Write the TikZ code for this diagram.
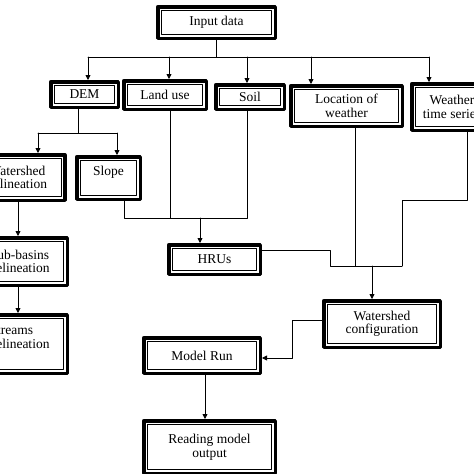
\documentclass[tikz,border=0pt]{standalone}
\usepackage{fontspec}
\setmainfont{Liberation Serif}
\usetikzlibrary{arrows.meta}

\begin{document}
\begin{tikzpicture}[x=1pt, y=-1pt, line cap=round, line join=round, line width=0.8pt,
  font=\fontsize{13.5}{13.5}\selectfont,
  box/.style={draw, line width=3.5pt, fill=white, inner sep=2pt, align=center,
    path picture={\draw[line width=0.8pt]
      ([shift={(3.6pt,3.6pt)}]path picture bounding box.south west) rectangle
      ([shift={(-3.6pt,-3.6pt)}]path picture bounding box.north east);}},
  arr/.style={-{Triangle[length=5pt,width=5pt]}}]

% Frame of the picture (boxes at the sides are cut off)
\useasboundingbox (0,0) rectangle (474,474);
\clip (0,0) rectangle (474,474);

% Boxes, placed at coordinates
\node[box, minimum width=117.5pt, minimum height=31.5pt] (input) at (216.5,22.5) {Input data};
\node[box, minimum width=67.5pt, minimum height=25.5pt] (dem) at (84.5,94.5) {DEM};
\node[box, minimum width=82.5pt, minimum height=28.5pt] (landuse) at (165,95) {Land use};
\node[box, minimum width=68.5pt, minimum height=24.5pt] (soil) at (250,97) {Soil};
\node[box, minimum width=111.5pt, minimum height=40.5pt] (loc) at (346.5,106) {Location of\\weather};
\node[box, minimum width=80.5pt, minimum height=46.5pt] (wts) at (452,107) {Weather\\time series};
\node[box, minimum width=95.5pt, minimum height=45.5pt] (wsd) at (17,177.5) {Watershed\\delineation};
\node[box, minimum width=63.5pt, minimum height=42.5pt] (slope) at (108.5,178) {Slope\\\mbox{}};
\node[box, minimum width=95.5pt, minimum height=47.5pt] (sub) at (19.5,261.5) {Sub-basins\\delineation};
\node[box, minimum width=95.5pt, minimum height=58.5pt, align=left] (streams) at (19.5,344) {Streams\\delineation\\\mbox{}};
\node[box, minimum width=91.5pt, minimum height=29.5pt] (hru) at (214.5,259.5) {HRUs};
\node[box, minimum width=116.5pt, minimum height=46.5pt] (wsc) at (382,324) {Watershed\\configuration};
\node[box, minimum width=116.5pt, minimum height=35.5pt] (run) at (202,355.5) {Model Run};
\node[box, minimum width=131.5pt, minimum height=52.5pt] (out) at (209.5,447) {Reading model\\output};

% Input data to the five data sets
\coordinate (tDEM) at (88,57);
\coordinate (tLU) at (169,57);
\coordinate (tSoil) at (247,57);
\coordinate (tLoc) at (311,57);
\coordinate (tWts) at (429,57);
\draw (input) -- (input |- tDEM);
\draw (tDEM) -- (tWts);
\draw[arr] (tDEM) -- (tDEM |- dem.north);
\draw[arr] (tLU) -- (tLU |- landuse.north);
\draw[arr] (tSoil) -- (tSoil |- soil.north);
\draw[arr] (tLoc) -- (tLoc |- loc.north);
\draw[arr] (tWts) -- (tWts |- wts.north);

% DEM branch
\coordinate (dJ) at (78,133);
\coordinate (dL) at (38,133);
\coordinate (dR) at (117,133);
\coordinate (lx) at (18,0);
\draw (dJ |- dem.south) -- (dJ);
\draw (dL) -- (dR);
\draw[arr] (dL) -- (dL |- wsd.north);
\draw[arr] (dR) -- (dR |- slope.north);
\draw[arr] (lx |- wsd.south) -- (lx |- sub.north);
\draw[arr] (lx |- sub.south) -- (lx |- streams.north);

% Slope, land use and soil to HRUs
\coordinate (mL) at (124,218);
\coordinate (mLU) at (170,218);
\coordinate (mR) at (247,218);
\coordinate (hJ) at (200,218);
\draw (mL |- slope.south) -- (mL) -- (mR) -- (mR |- soil.south);
\draw (mLU |- landuse.south) -- (mLU);
\draw[arr] (hJ) -- (hJ |- hru.north);

% HRUs, location and weather to watershed configuration
\coordinate (cA) at (330,250);
\coordinate (cB) at (330,266);
\coordinate (cC) at (402,266);
\coordinate (cL) at (355,266);
\coordinate (cJ) at (372,266);
\coordinate (wA) at (467,200);
\draw (cA -| hru.east) -- (cA) -- (cB) -- (cC);
\draw (cL |- loc.south) -- (cL);
\draw (wA |- wts.south) -- (wA) -- (wA -| cC) -- (cC);
\draw[arr] (cJ) -- (cJ |- wsc.north);

% Watershed configuration to model run to output
\coordinate (rA) at (292,320);
\coordinate (rB) at (292,358);
\coordinate (oJ) at (205,400);
\draw[arr] (rA -| wsc.west) -- (rA) -- (rB) -- (rB -| run.east);
\draw[arr] (oJ |- run.south) -- (oJ |- out.north);

\end{tikzpicture}
\end{document}
